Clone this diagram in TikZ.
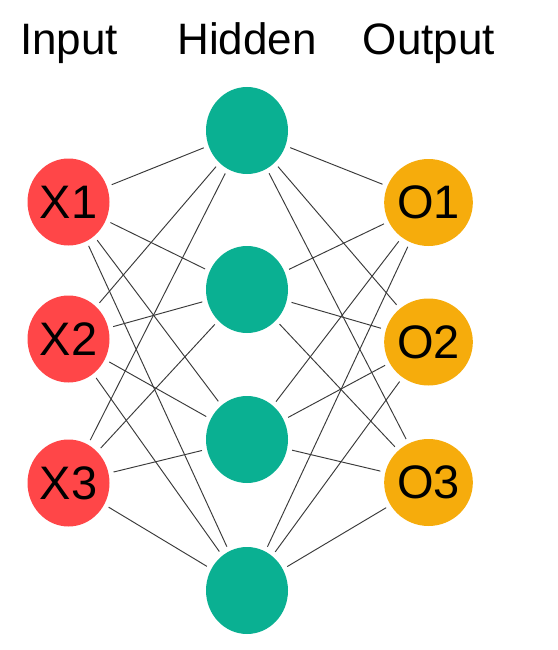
\documentclass[tikz,border=0pt]{standalone}
\usepackage{fontspec}
\setmainfont{Liberation Sans}
\usetikzlibrary{shapes.geometric}
\definecolor{inred}{HTML}{FF4648}
\definecolor{hidgreen}{HTML}{0AB092}
\definecolor{outorange}{HTML}{F6AC0C}
\definecolor{edgegray}{HTML}{3A3A3A}
\tikzset{
  neuron/.style={ellipse, minimum width=82pt, minimum height=87pt, inner sep=0pt, font=\fontsize{47}{47}\selectfont},
  innode/.style={neuron, fill=inred},
  hidnode/.style={neuron, fill=hidgreen},
  outnode/.style={neuron, fill=outorange},
  layerlabel/.style={font=\fontsize{44}{44}\selectfont, anchor=base},
  edge/.style={draw=edgegray, line width=0.95pt, shorten <=5pt, shorten >=5pt}
}
\begin{document}
\begin{tikzpicture}[x=1pt,y=-1pt]
\useasboundingbox (0,0) rectangle (557,650);
\node[layerlabel] (lin) at (69,55) {Input};
\node[layerlabel] (lhid) at (247,55) {Hidden};
\node[layerlabel] (lout) at (429,55) {Output};
\node[innode] (x1) at (68.5,202) {X1};
\node[innode] (x2) at (68.5,339) {X2};
\node[innode] (x3) at (68.5,483) {X3};
\node[hidnode] (h1) at (247,130.5) {};
\node[hidnode] (h2) at (247,289.5) {};
\node[hidnode] (h3) at (247,439.5) {};
\node[hidnode] (h4) at (247,590.5) {};
\node[outnode] (o1) at (428.5,202.5) {O1};
\node[outnode] (o2) at (428.5,342) {O2};
\node[outnode] (o3) at (428.5,482.5) {O3};
\foreach \i in {x1,x2,x3}{
  \foreach \h in {h1,h2,h3,h4}{
    \draw[edge] (\i) -- (\h);
  }
}
\foreach \h in {h1,h2,h3,h4}{
  \foreach \o in {o1,o2,o3}{
    \draw[edge] (\h) -- (\o);
  }
}
\end{tikzpicture}
\end{document}
